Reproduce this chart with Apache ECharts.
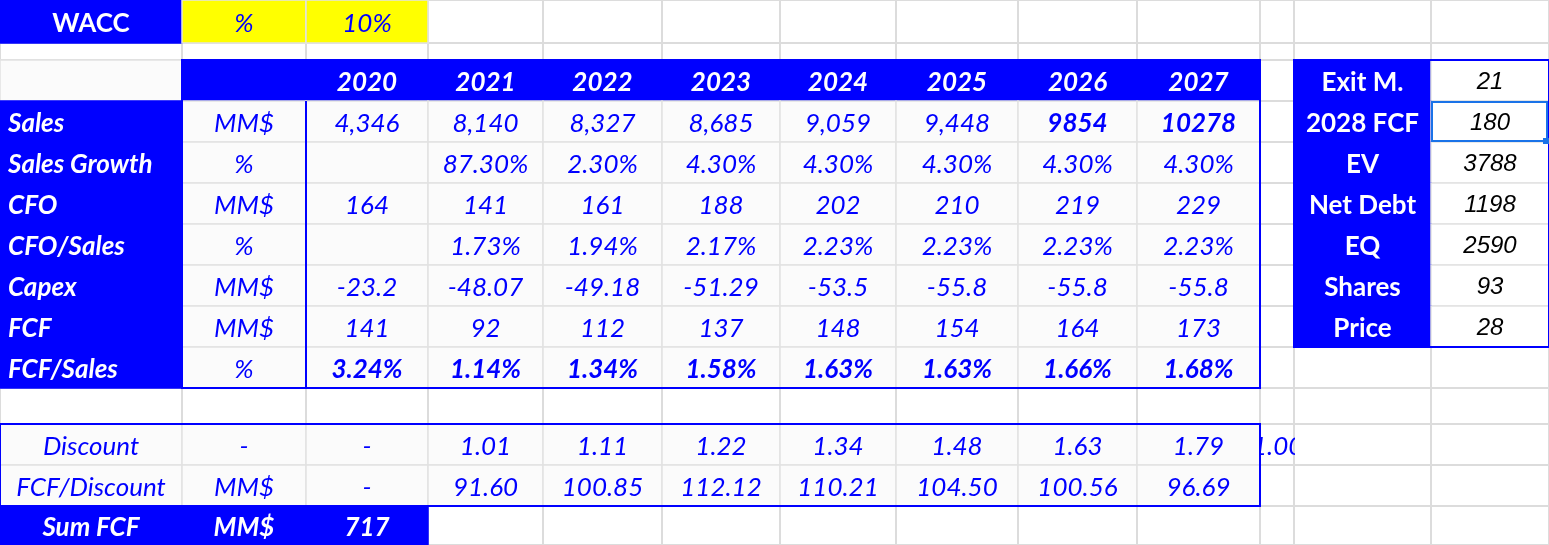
<!DOCTYPE html>
<html><head><meta charset="utf-8">
<script src="https://cdn.jsdelivr.net/npm/echarts@6/dist/echarts.min.js"></script>
<style>html,body{margin:0;padding:0;background:#fff}#chart{width:1549px;height:545px}</style>
</head><body><div id="chart"></div>
<script>
// values
var years = ['2020','2021','2022','2023','2024','2025','2026','2027'];
var sales = ['4,346','8,140','8,327','8,685','9,059','9,448','9854','10278'];
var salesGrowth = ['','87.30%','2.30%','4.30%','4.30%','4.30%','4.30%','4.30%'];
var cfo = ['164','141','161','188','202','210','219','229'];
var cfoSales = ['','1.73%','1.94%','2.17%','2.23%','2.23%','2.23%','2.23%'];
var capex = ['-23.2','-48.07','-49.18','-51.29','-53.5','-55.8','-55.8','-55.8'];
var fcf = ['141','92','112','137','148','154','164','173'];
var fcfSales = ['3.24%','1.14%','1.34%','1.58%','1.63%','1.63%','1.66%','1.68%'];
var discount = ['-','-','1.01','1.11','1.22','1.34','1.48','1.63','1.79'];
var fcfDiscount = ['MM$','-','91.60','100.85','112.12','110.21','104.50','100.56','96.69'];
var rightLabels = ['Exit M.','2028 FCF','EV','Net Debt','EQ','Shares','Price'];
var rightValues = ['21','180','3788','1198','2590','93','28'];
var rowLabels = ['Sales','Sales Growth','CFO','CFO/Sales','Capex','FCF','FCF/Sales'];
var rowUnits = ['MM$','%','MM$','%','MM$','MM$','%'];

// sheet layout
var colX = [0,182,306,428,543,662,780,896,1018,1137,1260,1294,1431,1549];
var rowY = [0,43,60,101,142,183,224,265,306,347,388,424,465,506,545];
var BLUE = '#0000ff', LIGHT = '#fbfbfb';
var FONT = 'Lato';

var cells = [];
function add(c, r, text, o) {
  o = o || {};
  cells.push({c0: c, c1: o.span ? c + o.span : c + 1, r: r, text: text, bg: o.bg, color: o.color || BLUE,
    weight: o.bold ? 'bold' : 'normal', style: o.italic === false ? 'normal' : 'italic',
    align: o.align || 'center', font: o.font || FONT, size: o.size || 26});
}

add(0, 0, 'WACC', {bg: BLUE, color: '#fff', bold: true, italic: false});
add(1, 0, '%', {bg: '#ffff00'});
add(2, 0, '10%', {bg: '#ffff00'});

add(0, 2, '', {bg: LIGHT});
add(1, 2, '', {bg: BLUE});
years.forEach(function (y, i) { add(2 + i, 2, y, {bg: BLUE, color: '#fff', bold: true}); });

var rows = [sales, salesGrowth, cfo, cfoSales, capex, fcf, fcfSales];
rows.forEach(function (vals, k) {
  var r = 3 + k;
  add(0, r, rowLabels[k], {bg: BLUE, color: '#fff', bold: true, align: 'left'});
  add(1, r, rowUnits[k], {bg: LIGHT});
  vals.forEach(function (v, i) {
    var bold = k === 6 || (k === 0 && i >= 6);
    add(2 + i, r, v, {bg: LIGHT, bold: bold});
  });
});

add(0, 11, 'Discount', {bg: LIGHT});
discount.forEach(function (v, i) { add(1 + i, 11, v, {bg: LIGHT}); });
add(0, 12, 'FCF/Discount', {bg: LIGHT});
fcfDiscount.forEach(function (v, i) { add(1 + i, 12, v, {bg: LIGHT}); });

add(0, 13, 'Sum FCF', {bg: BLUE, color: '#fff', bold: true});
add(1, 13, 'MM$', {bg: BLUE, color: '#fff', bold: true});
add(2, 13, '717', {bg: BLUE, color: '#fff', bold: true});

rightLabels.forEach(function (l, k) {
  add(11, 2 + k, l, {bg: BLUE, color: '#fff', bold: true, italic: false});
  add(12, 2 + k, rightValues[k], {bg: '#fff', color: '#000', font: 'Liberation Sans', size: 24});
});

// boxes: [c0, c1, r0, r1]
var boxes = [[1,10,2,10],[0,10,11,13],[11,13,2,9],[2,3,3,10]];

var chart = echarts.init(document.getElementById('chart'));

function gridItem(params, api) {
  var ch = [];
  colX.forEach(function (x) {
    var a = api.coord([x, 0]), b = api.coord([x, 545]);
    ch.push({type: 'line', shape: {x1: a[0], y1: a[1], x2: b[0], y2: b[1]}, style: {stroke: '#dcdcdc', lineWidth: 2}});
  });
  rowY.forEach(function (y) {
    var a = api.coord([0, y]), b = api.coord([1549, y]);
    ch.push({type: 'line', shape: {x1: a[0], y1: a[1], x2: b[0], y2: b[1]}, style: {stroke: '#dcdcdc', lineWidth: 2}});
  });
  return {type: 'group', children: ch};
}

function cellItem(params, api) {
  var d = cells[params.dataIndex];
  var p0 = api.coord([colX[d.c0], rowY[d.r]]);
  var p1 = api.coord([colX[d.c1], rowY[d.r + 1]]);
  var ch = [];
  if (d.bg) ch.push({type: 'rect', shape: {x: p0[0], y: p0[1], width: p1[0] - p0[0], height: p1[1] - p0[1]},
    style: {fill: d.bg, stroke: d.bg === BLUE ? BLUE : '#e2e2e2', lineWidth: 1.5}});
  ch.push({type: 'text', x: d.align === 'left' ? p0[0] + 8 : (p0[0] + p1[0]) / 2, y: (p0[1] + p1[1]) / 2 + 2,
    style: {text: d.text, fill: d.color, align: d.align, verticalAlign: 'middle',
      font: d.style + ' ' + d.weight + ' ' + d.size + 'px "' + d.font + '"'}});
  return {type: 'group', children: ch};
}

function boxItem(params, api) {
  var b = boxes[params.dataIndex];
  var p0 = api.coord([colX[b[0]], rowY[b[2]]]);
  var p1 = api.coord([colX[b[1]], rowY[b[3]]]);
  if (params.dataIndex === 3)
    return {type: 'line', shape: {x1: p0[0], y1: p0[1], x2: p0[0], y2: p1[1]}, style: {stroke: BLUE, lineWidth: 2}};
  return {type: 'rect', shape: {x: p0[0], y: p0[1], width: p1[0] - p0[0], height: p1[1] - p0[1]},
    style: {fill: 'none', stroke: BLUE, lineWidth: 2}};
}

function extraItem(params, api) {
  var p0 = api.coord([colX[10], rowY[11]]), p1 = api.coord([colX[11], rowY[12]]);
  var s0 = api.coord([colX[12], rowY[3]]), s1 = api.coord([colX[13], rowY[4]]);
  return {type: 'group', children: [
    {type: 'text', x: p0[0] - 8, y: (p0[1] + p1[1]) / 2 + 2,
      clipPath: {type: 'rect', shape: {x: 9, y: -30, width: p1[0] - p0[0], height: 60}},
      style: {text: '1.00', fill: BLUE, verticalAlign: 'middle', font: 'italic 26px "Lato"'}},
    {type: 'rect', shape: {x: s0[0] + 1, y: s0[1] + 1, width: s1[0] - s0[0] - 3, height: s1[1] - s0[1] - 2},
      style: {fill: 'none', stroke: '#1a73e8', lineWidth: 2}},
    {type: 'rect', shape: {x: s1[0] - 6, y: s1[1] - 4, width: 6, height: 6}, style: {fill: '#1a73e8'}}
  ]};
}

chart.setOption({
  animation: false,
  grid: {left: 0, right: 0, top: 0, bottom: 0},
  xAxis: {type: 'value', min: 0, max: 1549, show: false},
  yAxis: {type: 'value', min: 0, max: 545, inverse: true, show: false},
  series: [
    {type: 'custom', renderItem: gridItem, data: [0], silent: true},
    {type: 'custom', renderItem: cellItem, data: cells.map(function (c, i) { return [i]; }), silent: true},
    {type: 'custom', renderItem: boxItem, data: boxes.map(function (b, i) { return [i]; }), silent: true},
    {type: 'custom', renderItem: extraItem, data: [0], silent: true}
  ]
});
</script></body></html>
